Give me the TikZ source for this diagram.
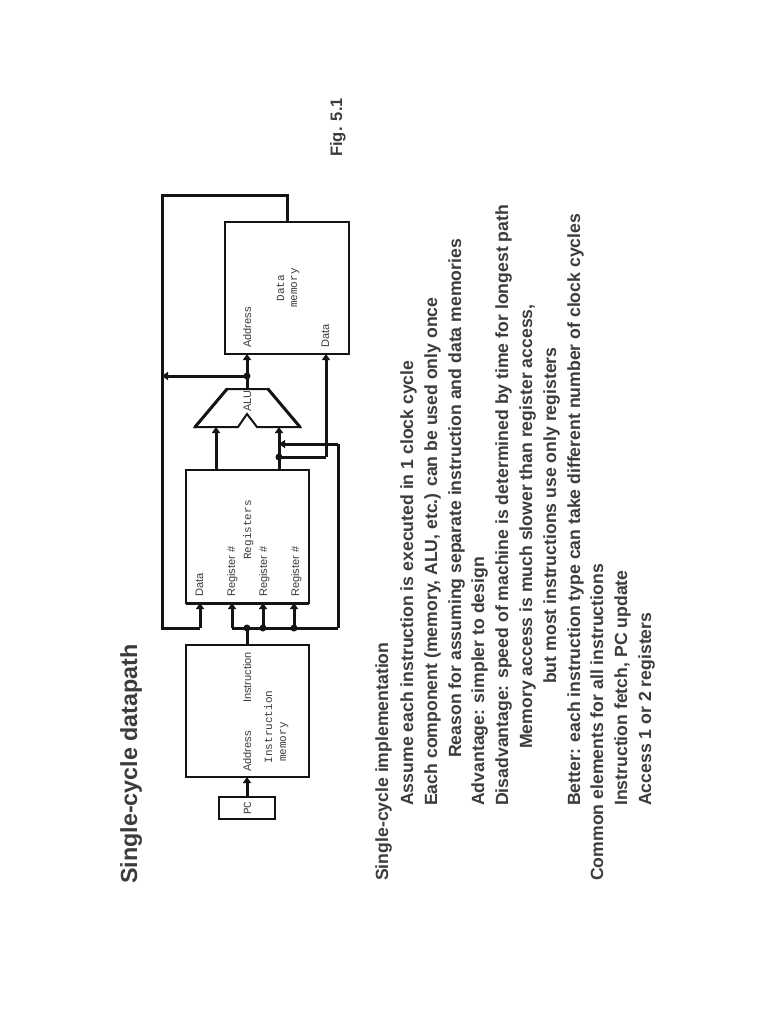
\documentclass[tikz,border=0pt]{standalone}
\usepackage{fontspec}
\setmainfont{Liberation Sans}
\newfontfamily\monolabel{Liberation Mono}
\usetikzlibrary{arrows.meta}
\definecolor{inkgray}{HTML}{3C3C3C}
\definecolor{linegray}{HTML}{141414}
\tikzset{
  block/.style={draw=linegray,line width=2pt,fill=none,rectangle,outer sep=0pt,inner sep=0pt},
  wire/.style={draw=linegray,line width=3pt},
  arrowwire/.style={wire,-{Triangle[length=6pt,width=8pt]}},
  dot/.style={circle,fill=linegray,inner sep=0pt,minimum size=7pt},
  body/.style={rotate=90,anchor=base west,inner sep=0pt,text=inkgray,font=\fontsize{17.65}{20}\selectfont\bfseries},
  title/.style={rotate=90,anchor=base west,inner sep=0pt,text=inkgray,font=\fontsize{23.3}{26}\selectfont\bfseries},
  port/.style={rotate=90,anchor=base west,inner sep=0pt,text=inkgray,font=\fontsize{11}{12}\selectfont},
  mono/.style={rotate=90,anchor=base,inner sep=0pt,text=inkgray,font=\fontsize{11}{12}\selectfont\monolabel},
}
\begin{document}
\begin{tikzpicture}[x=1pt,y=-1pt]
\useasboundingbox[fill=white] (0,0) rectangle (768,1024);
% blocks
\node[block,minimum width=124pt,minimum height=132pt] (dm) at (287,288) {};
\node[block,minimum width=123pt,minimum height=133pt] (rf) at (247.5,536.5) {};
\node[block,minimum width=123pt,minimum height=132pt] (im) at (247.5,711) {};
\node[block,minimum width=56pt,minimum height=22pt] (pc) at (247,808) {};
\draw[wire] (rf.south west) -- (rf.south east);
% ALU outline
\coordinate (aA) at (227,389);
\coordinate (aB) at (268,389);
\coordinate (aC) at (300,427);
\coordinate (aD) at (257,427);
\coordinate (aE) at (247,414);
\coordinate (aF) at (238,427);
\coordinate (aG) at (195,427);
\draw[draw=linegray,line width=2pt,line join=miter]
  (aA) -- (aB) -- (aC) -- (aD) -- (aE) -- (aF) -- (aG) -- cycle;
\draw[wire,line cap=round] (aB) -- (aC);
\draw[wire,line cap=round] (aG) -- (aA);
% named points
\coordinate (aluout) at (247,389);
\coordinate (aluinA) at (216,427);
\coordinate (aluinB) at (279,427);
\coordinate (j1) at (247,376);
\coordinate (j2) at (279,457);
\coordinate (j3) at (279,444);
\coordinate (corner1) at (162,196);
\coordinate (corner2) at (287,196);
\coordinate (corner3) at (162,628);
\coordinate (left1) at (162,376);
\coordinate (busL) at (232,628);
\coordinate (busI) at (247,628);
\coordinate (bus2) at (263,628);
\coordinate (bus3) at (294,628);
\coordinate (busR) at (338,628);
\coordinate (busRtop) at (338,444);
\coordinate (j4) at (326,457);
\coordinate (busD) at (200,628);
% wires
\draw[wire,line join=miter] (dm.north) -- (corner2) -- (corner1) -- (corner3) -- (busD);
\draw[arrowwire] (busD) -- (busD |- rf.south);
\draw[arrowwire] (aluout) -- (j1 |- dm.south);
\draw[arrowwire] (j1) -- (left1);
\draw[arrowwire] (rf.north -| aluinA) -- (aluinA);
\draw[arrowwire] (rf.north -| aluinB) -- (aluinB);
\draw[wire,line join=miter] (j2) -- (j4);
\draw[arrowwire] (j4) -- (j4 |- dm.south);
\draw[wire,line join=miter] (busR) -- (busRtop);
\draw[arrowwire] (busRtop) -- (j3);
\draw[wire,line join=miter] (busL) -- (busR);
\draw[arrowwire] (busL) -- (busL |- rf.south);
\draw[arrowwire] (bus2) -- (bus2 |- rf.south);
\draw[arrowwire] (bus3) -- (bus3 |- rf.south);
\draw[wire] (im.north -| busI) -- (busI);
\draw[arrowwire] (pc.north) -- (pc.north |- im.south);
% junctions
\node[dot] (d1) at (j1) {};
\node[dot] (d2) at (j2) {};
\node[dot] (d3) at (busI) {};
\node[dot] (d4) at (bus2) {};
\node[dot] (d5) at (bus3) {};
% block labels
\node[port] (l1) at (251,348) {Address};
\node[port] (l2) at (329,348) {Data};
\node[mono] (l3) at (284,288) {Data};
\node[mono] (l4) at (297,288) {memory};
\node[port] (alu) at (251,412) {ALU};
\node[port] (l5) at (203,597) {Data};
\node[port] (l6) at (235,597) {Register \#};
\node[port] (l7) at (267,597) {Register \#};
\node[port] (l8) at (299,597) {Register \#};
\node[mono] (l9) at (251,530) {Registers};
\node[port] (l10) at (251,703) {Instruction};
\node[port] (l11) at (251,772) {Address};
\node[mono] (l12) at (272,727) {Instruction};
\node[mono] (l13) at (286,742) {memory};
\node[mono] (l14) at (251,808) {PC};
% text
\node[title] (t0) at (137,884) {Single-cycle datapath};
\node[body,font=\fontsize{16.6}{18}\selectfont\bfseries] (t1) at (342,157) {Fig. 5.1};
\node[body] (a1) at (388,881) {Single-cycle implementation};
\node[body] (a2) at (413,806) {Assume each instruction is executed in 1 clock cycle};
\node[body] (a3) at (437,806) {Each component (memory, ALU, etc.) can be used only once};
\node[body] (a4) at (461,758) {Reason for assuming separate instruction and data memories};
\node[body] (a5) at (484,806) {Advantage: simpler to design};
\node[body] (a6) at (508,806) {Disadvantage: speed of machine is determined by time for longest path};
\node[body] (a7) at (532,749) {Memory access is much slower than register access,};
\node[body] (a8) at (556,684) {but most instructions use only registers};
\node[body] (a9) at (580,806) {Better: each instruction type can take different number of clock cycles};
\node[body] (a10) at (603,881) {Common elements for all instructions};
\node[body] (a11) at (627,806) {Instruction fetch, PC update};
\node[body] (a12) at (651,806) {Access 1 or 2 registers};
\end{tikzpicture}
\end{document}
